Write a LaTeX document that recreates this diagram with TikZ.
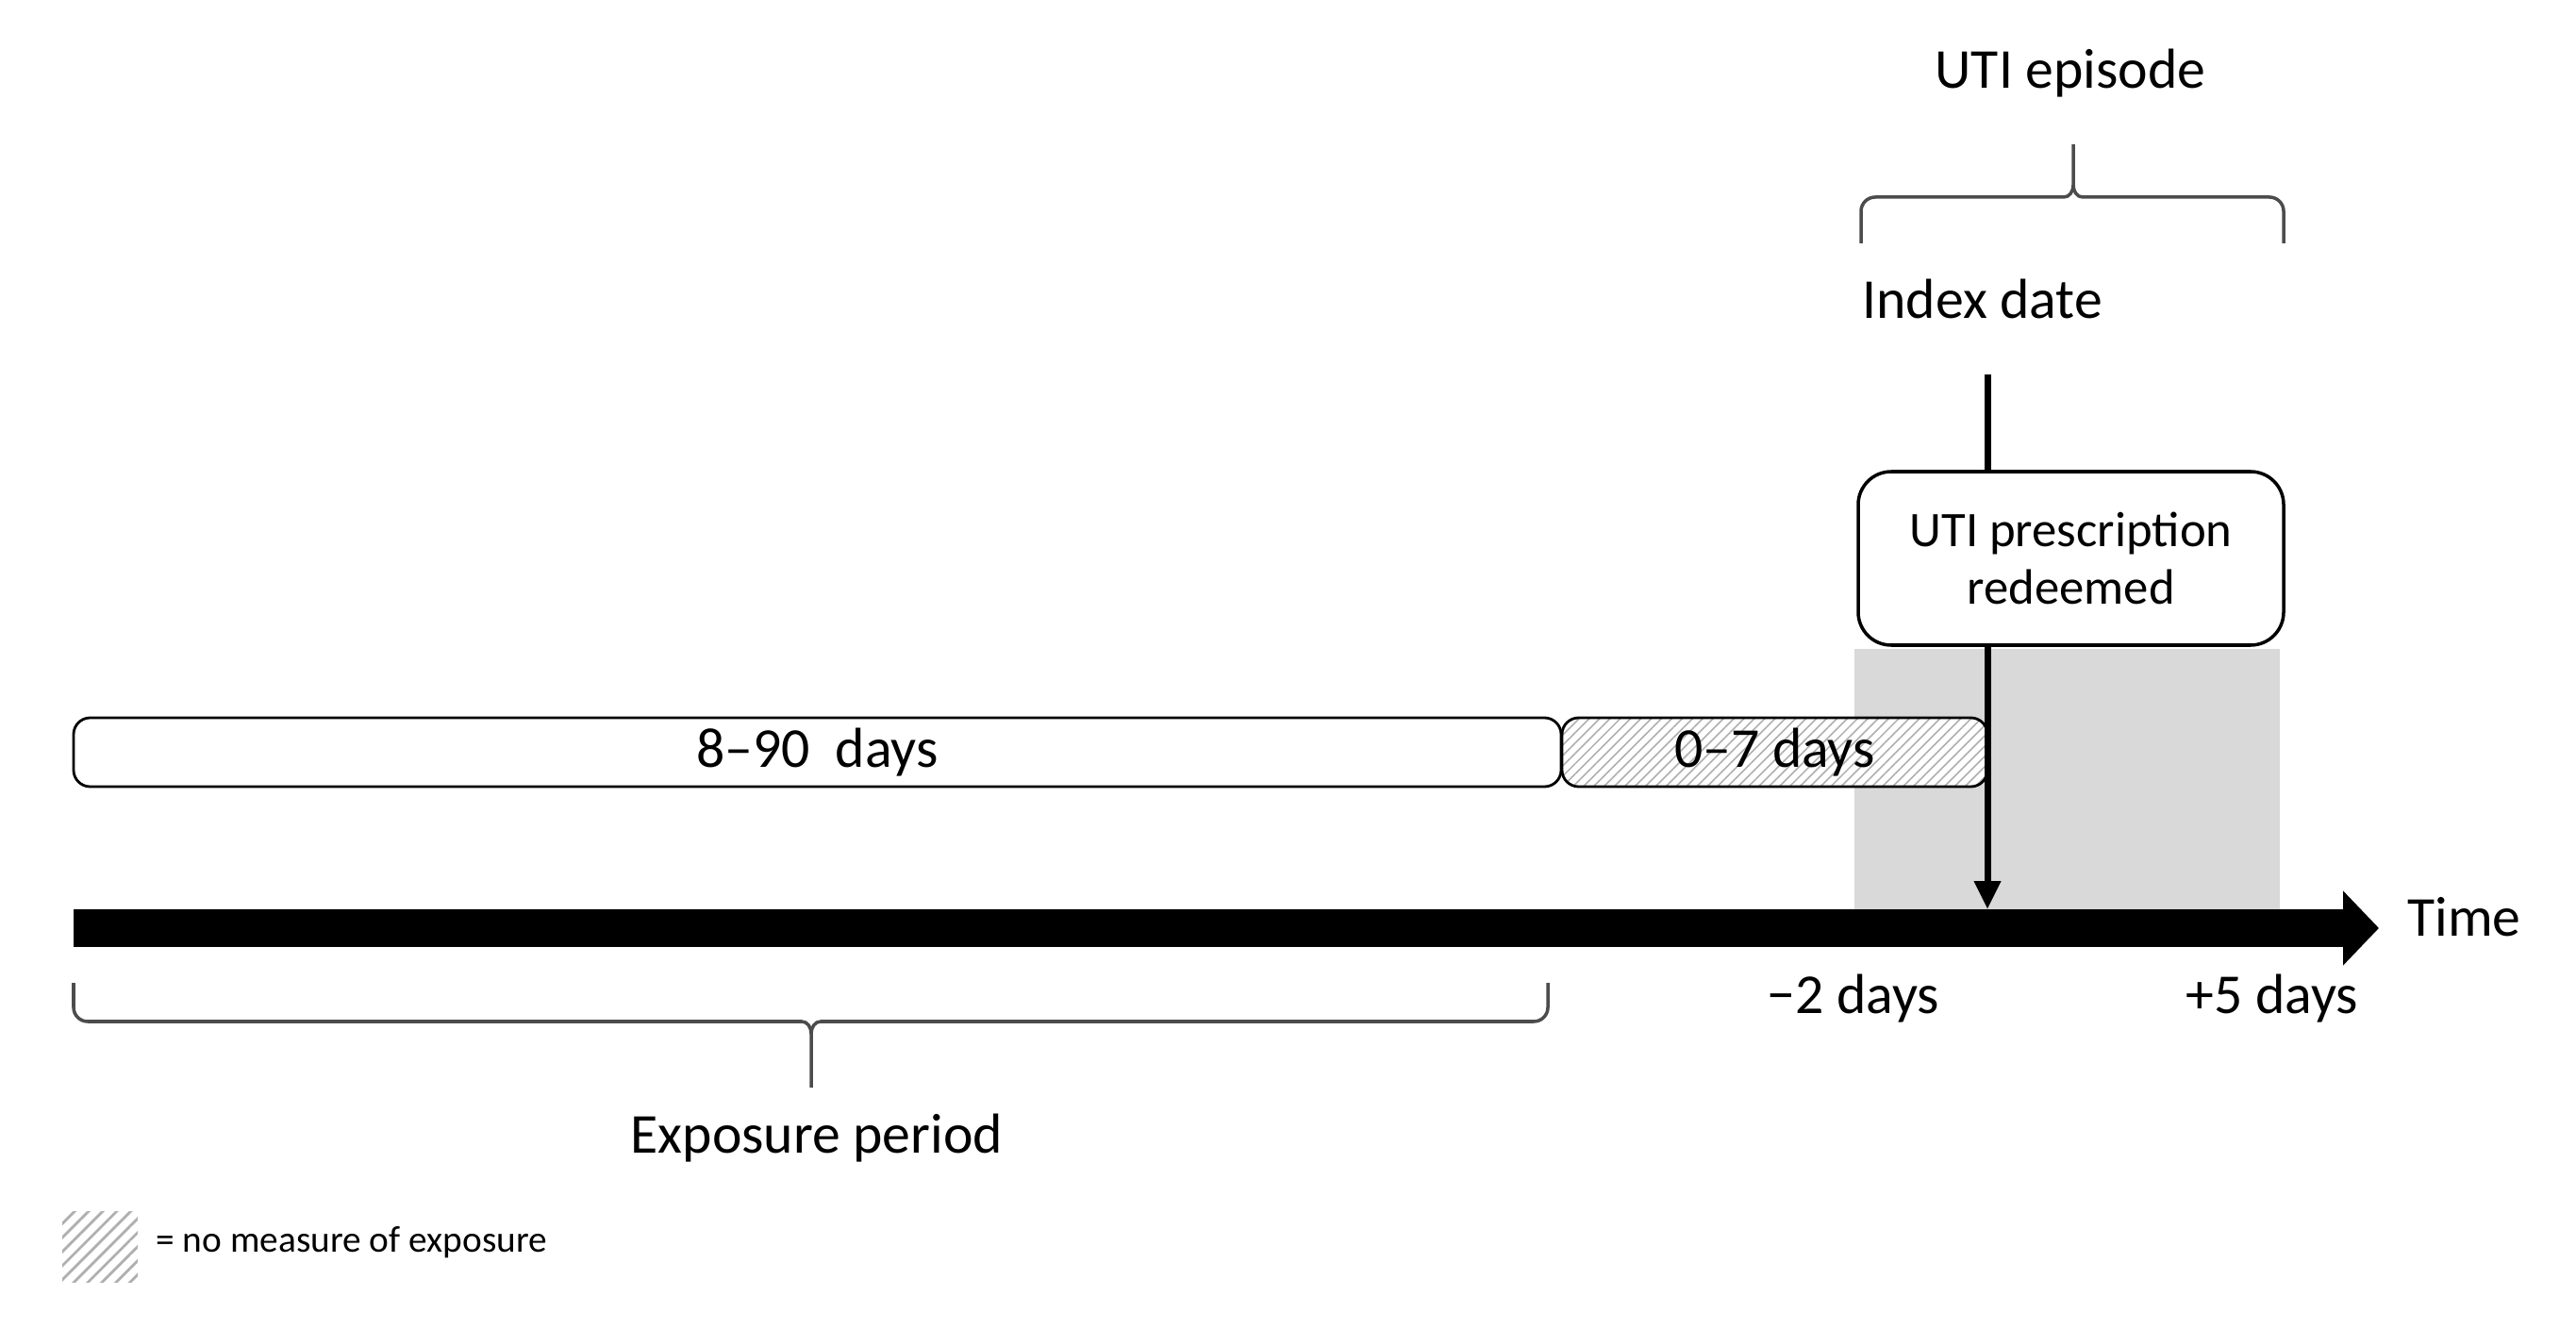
\documentclass[tikz,border=0pt]{standalone}
\usepackage{fontspec}
\setmainfont{Carlito}
\usetikzlibrary{arrows.meta,patterns.meta}
\definecolor{windowgray}{RGB}{217,217,217}
\definecolor{hatchgray}{RGB}{175,175,175}
\begin{document}
\begin{tikzpicture}[every node/.style={font=\fontsize{17}{20}\selectfont},
  periodbar/.style={draw, line width=0.8pt, rounded corners=5pt, fill=white,
    minimum height=0.73cm, inner sep=0pt},
  hatched/.style={preaction={fill=white},
    pattern={Lines[angle=45,distance=2.2pt,line width=0.45pt]}, pattern color=hatchgray},
  bracket/.style={draw=black!70, line width=1pt}]
  \useasboundingbox (0,0) rectangle (27.31,14.08);

  % finestra grigia (-2 / +5 giorni)
  \fill[windowgray] (19.66,4.44) rectangle (24.17,7.20);

  % periodi
  \node[periodbar, minimum width=15.77cm] (late) at (8.665,6.105) {8--90\ \ days};
  \node[periodbar, hatched, minimum width=4.51cm] (early) at (18.815,6.105) {0--7 days};

  % asse del tempo
  \coordinate (t0) at (0.78,4.24);
  \coordinate (t1) at (25.22,4.24);
  \draw[line width=0.4cm, -{Triangle[length=0.38cm,width=0.77cm]}] (t0) -- (t1);
  \node[anchor=west] (time) at (25.40,4.36) {Time};
  \node (minus) at (19.65,3.49) {\char"2212 2 days};
  \node (plus) at (24.09,3.49) {+5 days};

  % data indice
  \coordinate (idxtop) at (21.07,10.11);
  \coordinate (idxfoot) at (21.07,4.44);
  \draw[line width=2pt, -{Triangle[length=0.3cm,width=0.27cm]}] (idxtop) -- (idxfoot);
  \node[draw, fill=white, line width=1pt, rounded corners=0.35cm, minimum width=4.51cm,
    minimum height=1.84cm, align=center, font=\fontsize{15}{17.5}\selectfont]
    (rx) at (21.955,8.16) {UTI prescription\\redeemed};
  \node[anchor=west] (idx) at (19.62,10.91) {Index date};

  % episodio
  \draw[bracket] (19.73,11.50) -- (19.73,11.84) to[out=90,in=180] (19.88,11.99)
    -- (21.88,11.99) to[out=0,in=-90] (21.98,12.12) -- (21.98,12.55)
    -- (21.98,12.12) to[out=-90,in=180] (22.08,11.99)
    -- (24.06,11.99) to[out=0,in=90] (24.21,11.84) -- (24.21,11.50);
  \node (episode) at (21.95,13.30) {UTI episode};

  % periodo di esposizione
  \draw[bracket] (0.78,3.66) -- (0.78,3.40) to[out=-90,in=180] (0.93,3.25)
    -- (8.50,3.25) to[out=0,in=90] (8.60,3.12) -- (8.60,2.55)
    -- (8.60,3.12) to[out=90,in=180] (8.70,3.25)
    -- (16.26,3.25) to[out=0,in=-90] (16.41,3.40) -- (16.41,3.66);
  \node (exposure) at (8.66,2.01) {Exposure period};

  % legenda
  \node[minimum width=0.8cm, minimum height=0.75cm, inner sep=0pt,
    pattern={Lines[angle=45,distance=3pt,line width=0.8pt]}, pattern color=hatchgray]
    (key) at (1.06,0.865) {};
  \node[anchor=west, font=\fontsize{11.2}{13}\selectfont] (keytext) at (1.53,0.91)
    {= no measure of exposure};
\end{tikzpicture}
\end{document}
